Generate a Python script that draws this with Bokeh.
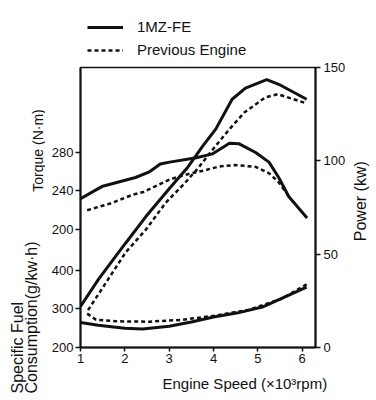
import math
import numpy as np
from bokeh.plotting import figure
from bokeh.layouts import row, column
from bokeh.models import Range1d, LinearAxis, FixedTicker, Legend, LegendItem, Label
from bokeh.embed import file_html
from bokeh.resources import INLINE

# ---------------- data ----------------
rpm_ticks = [1, 2, 3, 4, 5, 6]
torque_ticks = [200, 240, 280]
sfc_ticks = [200, 300, 400]
power_ticks = [0, 50, 100, 150]

# Torque (N·m)
rpm_torque_new = [1.0, 1.5, 2.24, 2.54, 2.8, 3.01, 3.61, 3.98, 4.36, 4.58, 4.95, 5.25, 5.47, 5.7, 6.11]
torque_new = [232, 245, 254, 259.5, 268, 270, 274.5, 278.6, 289.7, 289, 280, 270, 254, 234, 212]
rpm_torque_prev = [1.15, 1.67, 2.17, 2.42, 3.01, 3.46, 3.76, 4.13, 4.5, 4.95, 5.25, 5.47, 5.72]
torque_prev = [220, 227, 236, 239, 252, 258, 261, 265.5, 267, 265, 258.5, 249, 233]

# Power (kW)
rpm_power_new = [1.0, 1.42, 2.02, 2.47, 3.0, 3.4, 3.76, 4.05, 4.42, 4.72, 5.2, 5.47, 6.1]
power_new = [22, 37, 56, 70, 85, 96, 108, 117, 133, 139, 143.5, 141, 133]
rpm_power_prev = [1.17, 1.57, 2.02, 2.47, 2.92, 3.35, 3.65, 3.98, 4.36, 4.7, 5.17, 5.45, 6.07]
power_prev = [20, 34.6, 51, 63, 77.5, 88, 96, 106, 117, 126, 134, 135.7, 131]

# Specific fuel consumption (g/kW·h)
rpm_sfc_new = [1.0, 1.4, 2.0, 2.4, 3.0, 3.5, 4.0, 4.55, 5.1, 5.6, 6.1]
sfc_new = [265, 258, 250, 248, 255, 266, 279, 290, 305, 331, 357]
rpm_sfc_prev = [1.15, 1.35, 1.8, 2.55, 3.3, 4.05, 4.8, 5.55, 6.1]
sfc_prev = [288, 272, 268, 267, 272, 283, 298, 327, 364]

series_names = ["1MZ-FE", "Previous Engine"]

# ---------------- layout / style ----------------
INK = "#111111"
FONT = "Liberation Sans"
X_LO, X_HI = 1.0, 6.30
T_LO, T_HI = 77.4, 368.3
S_LO, S_HI = 200, 927
P_LO, P_HI = 0, 150

LEFT_W = 45            # strip holding the left titles
TOP_H = 58             # strip holding the legend
MAIN_W, MAIN_H = 303, 312
RIGHT_W = 376 - LEFT_W - MAIN_W
BOTTOM_H = 400 - TOP_H - MAIN_H

SOLID = dict(line_color=INK, line_width=3)
DASH = dict(line_color=INK, line_width=2.5, line_dash="4 3")


def sfc_to_torque(s):
    return round(T_LO + (s - S_LO) * (T_HI - T_LO) / (S_HI - S_LO), 2)


def strip(w, h):
    f = figure(width=w, height=h, x_range=Range1d(0, w), y_range=Range1d(0, h),
               output_backend="svg", toolbar_location=None, title=None,
               x_axis_location=None, y_axis_location=None,
               min_border_left=0, min_border_right=0, min_border_top=0, min_border_bottom=0)
    f.grid.visible = False
    f.outline_line_color = None
    f.background_fill_color = "white"
    f.border_fill_color = "white"
    return f


def add_text(f, x, y, text, size, angle=0.0, align="left"):
    f.add_layout(Label(x=x, y=y, text=text, angle=angle, text_align=align,
                       text_baseline="middle", text_font=FONT, text_font_size=size,
                       text_color=INK))


# ---------------- main chart ----------------
p = figure(width=MAIN_W, height=MAIN_H, x_range=Range1d(X_LO, X_HI), y_range=Range1d(T_LO, T_HI),
           output_backend="svg", toolbar_location=None, title=None,
           min_border_left=35, min_border_right=31, min_border_top=67 - TOP_H, min_border_bottom=23)
p.extra_y_ranges = {"sfc": Range1d(S_LO, S_HI), "power": Range1d(P_LO, P_HI)}
p.xgrid.visible = False
p.ygrid.visible = False
p.background_fill_color = "white"
p.border_fill_color = "white"
p.outline_line_color = INK
p.outline_line_width = 1.5

left_positions = [sfc_to_torque(s) for s in sfc_ticks] + [float(t) for t in torque_ticks]
overrides = {sfc_to_torque(s): str(s) for s in sfc_ticks}
overrides.update({float(t): str(t) for t in torque_ticks})
yax = p.yaxis[0]
yax.ticker = FixedTicker(ticks=left_positions)
yax.major_label_overrides = overrides

xax = p.xaxis[0]
xax.ticker = FixedTicker(ticks=rpm_ticks)

rax = LinearAxis(y_range_name="power", ticker=FixedTicker(ticks=power_ticks))
p.add_layout(rax, "right")

for ax in (xax, yax, rax):
    ax.axis_line_color = INK
    ax.axis_line_width = 2
    ax.major_tick_line_color = INK
    ax.major_tick_line_width = 1.5
    ax.major_tick_out = 5
    ax.major_tick_in = 0
    ax.minor_tick_line_color = None
    ax.major_label_text_font = FONT
    ax.major_label_text_font_size = "13px"
    ax.major_label_text_color = INK
    ax.major_label_standoff = 3
yax.major_label_standoff = 2
xax.major_tick_out = 4
xax.major_label_standoff = 2

p.line(rpm_torque_new, torque_new, **SOLID)
p.line(rpm_torque_prev, torque_prev, **DASH)
p.line(rpm_power_new, power_new, y_range_name="power", **SOLID)
p.line(rpm_power_prev, power_prev, y_range_name="power", **DASH)
p.line(rpm_sfc_new, sfc_new, y_range_name="sfc", **SOLID)
p.line(rpm_sfc_prev, sfc_prev, y_range_name="sfc", **DASH)

# ---------------- legend strip (top) ----------------
top = strip(376 - LEFT_W, TOP_H)
proxy = np.array([np.nan, np.nan])
k_new = top.line(x=proxy, y=proxy, **SOLID)
k_prev = top.line(x=proxy, y=proxy, **DASH)
legend = Legend(items=[LegendItem(label=series_names[0], renderers=[k_new], index=0),
                       LegendItem(label=series_names[1], renderers=[k_prev], index=0)],
                location=(42, 0), orientation="vertical",
                glyph_width=36, glyph_height=16, label_height=16, spacing=6,
                padding=0, margin=0, label_standoff=14,
                label_text_font=FONT, label_text_font_size="15px", label_text_color=INK,
                border_line_alpha=0, background_fill_alpha=0)
top.add_layout(legend, "center")

# ---------------- left titles strip ----------------
left = strip(LEFT_W, 400)
add_text(left, 37, 400 - 150, "Torque (N·m)", "14px", angle=math.pi / 2, align="center")
add_text(left, 17, 400 - 393, "Specific Fuel", "16px", angle=math.pi / 2)
add_text(left, 31, 400 - 393, "Consumption(g/kw·h)", "16px", angle=math.pi / 2)

# ---------------- right title strip ----------------
right = strip(RIGHT_W, MAIN_H)
add_text(right, 12, MAIN_H - (207 - TOP_H), "Power (kw)", "16px", angle=math.pi / 2, align="center")

# ---------------- bottom title strip ----------------
bottom = strip(376 - LEFT_W, BOTTOM_H)
add_text(bottom, 162 - LEFT_W, BOTTOM_H - (383 - TOP_H - MAIN_H), "Engine Speed (×10³rpm)", "15px")

layout = row(left, column(top, row(p, right), bottom))
open("out.html", "w").write(file_html(layout, INLINE))
